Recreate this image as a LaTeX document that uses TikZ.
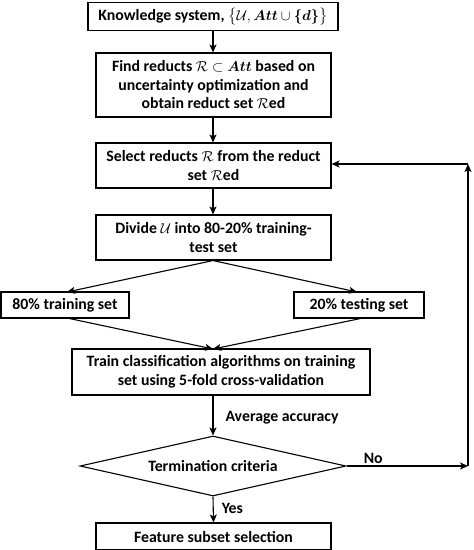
\documentclass[tikz,border=0pt]{standalone}
\usepackage{amsmath}
\usepackage{fontspec}
\setmainfont{Carlito}
\usetikzlibrary{arrows.meta,shapes.geometric}
\begin{document}
\begin{tikzpicture}[x=1pt,y=-1pt,
  font=\fontsize{15.8}{18.5}\selectfont\bfseries,
  box/.style={draw,line width=1.1pt,rectangle,inner sep=0pt,align=center},
  dia/.style={draw,line width=1.1pt,diamond,inner sep=0pt,aspect=4.43},
  arr/.style={line width=1.1pt,-{Stealth[length=8pt,width=7pt,inset=2pt]}},
  lbl/.style={inner sep=0pt,anchor=west}]
\useasboundingbox (0,0) rectangle (474,550);
\node[box,minimum width=250pt,minimum height=28pt] (k) at (213,16.5)
  {Knowledge system, $\bigl\{\mathcal{U},\boldsymbol{Att}\cup\boldsymbol{\{d\}}\bigr\}$};
\node[box,minimum width=235pt,minimum height=64pt] (f) at (213.5,85)
  {Find reducts $\mathcal{R}\subset\boldsymbol{Att}$ based on\\uncertainty optimization and\\obtain reduct set $\mathcal{R}\mathbf{ed}$};
\node[box,minimum width=235pt,minimum height=45pt] (s) at (213.5,165.5)
  {Select reducts $\mathcal{R}$ from the reduct\\set $\mathcal{R}\mathbf{ed}$};
\node[box,minimum width=235pt,minimum height=45pt] (d) at (213.5,237.5)
  {Divide $\mathcal{U}$ into 80-20\% training-\\test set};
\node[box,minimum width=128pt,minimum height=26pt] (tr) at (65,305) {80\% training set};
\node[box,minimum width=130pt,minimum height=26pt] (te) at (359,305) {20\% testing set};
\node[box,minimum width=298pt,minimum height=46pt] (tc) at (221,372)
  {Train classification algorithms on training\\set using 5-fold cross-validation};
\node[dia,minimum width=266pt,minimum height=60pt] (tm) at (213,466) {Termination criteria};
\node[box,minimum width=235pt,minimum height=27pt] (fs) at (213.5,536.5) {Feature subset selection};
\coordinate (c1) at (468,466);
\coordinate (c2) at (468,164);
\coordinate (d1) at (67,292);
\coordinate (d2) at (357,292);
\coordinate (u1) at (67,318);
\coordinate (u2) at (363,318);
\coordinate (m1) at (213,349);
\coordinate (m2) at (213,395);
\draw[arr] (k.south -| 213,0) -- (f.north -| 213,0);
\draw[arr] (f.south -| 213,0) -- (s.north -| 213,0);
\draw[arr] (s.south -| 213,0) -- (d.north -| 213,0);
\draw[arr] (d.south -| 213,0) -- (d1);
\draw[arr] (d.south -| 213,0) -- (d2);
\draw[arr] (u1) -- (m1);
\draw[arr] (u2) -- (m1);
\draw[arr] (m2) -- (tm.north) node[lbl,pos=0.55,xshift=12pt] {Average accuracy};
\draw[arr] (tm.south) -- (fs.north) node[lbl,pos=0.45,xshift=8pt] {Yes};
\draw[arr] (tm.east) -- (c1) node[pos=0.22,above=2pt,inner sep=0pt] {No};
\draw[arr] (c1) -- (c2);
\draw[arr] (c2) -- (c2 -| s.east);
\end{tikzpicture}
\end{document}
